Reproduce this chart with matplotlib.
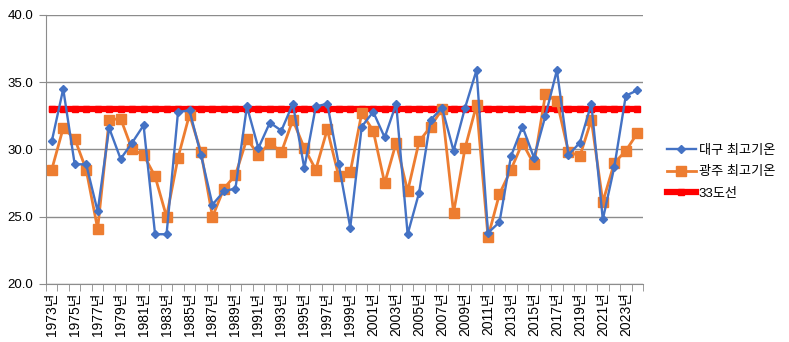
import matplotlib
matplotlib.use("Agg")
import matplotlib.pyplot as plt
import numpy as np

plt.rcParams['font.family'] = ['Liberation Sans', 'Noto Sans CJK KR', 'DejaVu Sans']

# ---------------- data ----------------
years = list(range(1973, 2025))

daegu = [30.6, 34.5, 28.9, 28.9, 25.4, 31.6, 29.3, 30.5, 31.8, 23.7,
         23.7, 32.8, 32.9, 29.6, 25.9, 26.9, 27.1, 33.2, 30.1, 32.0,
         31.4, 33.4, 28.6, 33.2, 33.4, 28.9, 24.2, 31.7, 32.8, 30.9,
         33.4, 23.7, 26.8, 32.2, 33.1, 29.9, 33.1, 35.9, 23.8, 24.6,
         29.5, 31.7, 29.4, 32.5, 35.9, 29.6, 30.5, 33.4, 24.8, 28.7,
         34.0, 34.4]

gwangju = [28.5, 31.6, 30.8, 28.5, 24.1, 32.2, 32.3, 30.0, 29.6, 28.0,
           25.0, 29.4, 32.6, 29.8, 25.0, 27.1, 28.1, 30.8, 29.6, 30.5,
           29.8, 32.2, 30.1, 28.5, 31.5, 28.0, 28.3, 32.7, 31.4, 27.5,
           30.5, 26.9, 30.6, 31.7, 33.0, 25.3, 30.1, 33.3, 23.5, 26.7,
           28.5, 30.5, 28.9, 34.1, 33.6, 29.85, 29.5, 32.2, 26.1, 29.0,
           29.9, 31.2]

line33 = [33.0] * len(years)

series_names = ['대구 최고기온', '광주 최고기온', '33도선']
tick_labels = ['{}년'.format(y) for y in years]

# ---------------- plot ----------------
fig = plt.figure(figsize=(7.89, 3.42), dpi=100)
ax = fig.add_axes([46 / 789, 1 - 284 / 342, 597 / 789, 269 / 342])

x = np.arange(len(years))

ax.plot(x, daegu, color='#4472C4', lw=1.7, marker='D', ms=4.5,
        label=series_names[0], zorder=4)
ax.plot(x, gwangju, color='#ED7D31', lw=2.0, marker='s', ms=6.5,
        label=series_names[1], zorder=3)
ax.plot(x, line33, color='#FF0000', lw=4.5, marker='s', ms=4,
        label=series_names[2], zorder=2)

ax.set_xlim(-0.5, len(years) - 0.5)
ax.set_ylim(20, 40)
ax.set_yticks([20, 25, 30, 35, 40])
ax.set_yticklabels(['{:.1f}'.format(v) for v in [20, 25, 30, 35, 40]],
                   fontsize=9.5)
ax.yaxis.grid(True, color='#8c8c8c', lw=1)
ax.set_axisbelow(True)

ax.set_xticks(x[::2])
ax.set_xticklabels(tick_labels[::2], rotation=90, fontsize=10, va='top', ha='center')
ax.set_xticks(np.arange(len(years) + 1) - 0.5, minor=True)
ax.tick_params(axis='x', which='major', length=0, pad=6)
ax.tick_params(axis='x', which='minor', length=5, color='#8c8c8c')
ax.tick_params(axis='y', length=5, color='#8c8c8c', pad=4)

for s in ['top', 'right']:
    ax.spines[s].set_visible(False)
for s in ['left', 'bottom']:
    ax.spines[s].set_color('#8c8c8c')

leg = fig.legend(loc='center left', bbox_to_anchor=(655 / 789, 1 - 172 / 342),
                 frameon=False, fontsize=9.5, handlelength=2.2,
                 labelspacing=0.7, handletextpad=0.2)

fig.savefig('out.png', dpi=100)
